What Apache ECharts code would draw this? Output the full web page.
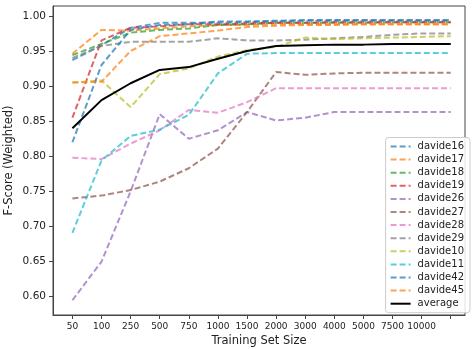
<!DOCTYPE html>
<html>
<head>
<meta charset="utf-8">
<script src="https://cdn.jsdelivr.net/npm/echarts@6/dist/echarts.min.js"></script>
<style>html,body{margin:0;padding:0;background:#fff}#c{width:474px;height:349px}</style>
</head>
<body>
<div id="c"></div>
<script>
var categories = ['50','100','250','500','750','1000','1500','2000','3000','4000','5000','7500','10000',''];
var yTicks = [0.60,0.65,0.70,0.75,0.80,0.85,0.90,0.95,1.00];

var davide16 = [0.937,0.958,0.983,0.990,0.990,0.990,0.991,0.992,0.993,0.993,0.993,0.993,0.993,0.993];
var davide17 = [0.946,0.980,0.979,0.982,0.985,0.987,0.987,0.988,0.988,0.988,0.988,0.988,0.988,0.988];
var davide18 = [0.944,0.960,0.976,0.980,0.982,0.987,0.988,0.990,0.990,0.990,0.990,0.991,0.991,0.991];
var davide19 = [0.855,0.965,0.983,0.985,0.988,0.988,0.989,0.990,0.990,0.991,0.991,0.991,0.991,0.991];
var davide26 = [0.595,0.650,0.750,0.860,0.825,0.837,0.863,0.851,0.855,0.863,0.863,0.863,0.863,0.863];
var davide27 = [0.740,0.744,0.752,0.764,0.783,0.811,0.863,0.920,0.916,0.918,0.919,0.919,0.919,0.919];
var davide28 = [0.798,0.796,0.818,0.837,0.866,0.862,0.877,0.897,0.897,0.897,0.897,0.897,0.897,0.897];
var davide29 = [0.940,0.957,0.963,0.963,0.963,0.968,0.965,0.965,0.966,0.968,0.970,0.973,0.975,0.975];
var davide10 = [0.905,0.908,0.870,0.917,0.925,0.942,0.951,0.956,0.969,0.967,0.968,0.969,0.970,0.971];
var davide11 = [0.691,0.794,0.829,0.838,0.859,0.918,0.946,0.947,0.947,0.947,0.947,0.947,0.947,0.947];
var davide42 = [0.820,0.930,0.980,0.987,0.988,0.992,0.992,0.993,0.994,0.994,0.994,0.994,0.994,0.994];
var davide45 = [0.905,0.906,0.950,0.971,0.975,0.979,0.984,0.986,0.987,0.987,0.988,0.988,0.988,0.988];
var average  = [0.840,0.880,0.904,0.923,0.927,0.939,0.950,0.957,0.958,0.959,0.959,0.960,0.960,0.960];

var seriesNames = ['davide16','davide17','davide18','davide19','davide26','davide27','davide28','davide29','davide10','davide11','davide42','davide45','average'];
var seriesValues = [davide16,davide17,davide18,davide19,davide26,davide27,davide28,davide29,davide10,davide11,davide42,davide45,average];
var colors = ['#1f77b4','#ff7f0e','#2ca02c','#d62728','#9467bd','#8c564b','#e377c2','#7f7f7f','#bcbd22','#17becf','#1f77b4','#ff7f0e','#000000'];

var tickIdx = categories.map(function(_, i){ return i; });
var labelIdx = tickIdx.slice(0, categories.length - 1);

var series = seriesNames.map(function(name, k){
  var isAvg = name === 'average';
  return {
    name: name,
    type: 'line',
    symbol: 'none',
    silent: true,
    animation: false,
    data: seriesValues[k].map(function(v, i){ return [i, v]; }),
    lineStyle: {
      color: colors[k],
      width: 2,
      type: isAvg ? 'solid' : [6, 3],
      opacity: isAvg ? 1 : 0.72
    },
    itemStyle: { color: colors[k], opacity: isAvg ? 1 : 0.72 }
  };
});

var chart = echarts.init(document.getElementById('c'), null, {renderer: 'canvas'});
chart.setOption({
  animation: false,
  backgroundColor: '#fff',
  textStyle: { fontFamily: 'DejaVu Sans' },
  grid: { left: 53, right: 9, top: 6, bottom: 34, containLabel: false, outerBoundsMode: 'none',
          show: true, borderColor: '#444', borderWidth: 1, backgroundColor: 'transparent' },
  xAxis: {
    type: 'value',
    min: -0.667, max: 13.49,
    name: 'Training Set Size',
    nameLocation: 'middle',
    nameGap: 20,
    nameMoveOverlap: false,
    nameTextStyle: { fontSize: 11.5, color: '#222' },
    axisLine: { show: true, onZero: false, lineStyle: { color: '#444', width: 1 } },
    axisTick: { show: true, length: 4, lineStyle: { color: '#444' }, customValues: tickIdx },
    axisLabel: { fontSize: 9, color: '#222', margin: 7, customValues: labelIdx, hideOverlap: false,
      formatter: function(v){ var i = Math.round(v); return categories[i] || ''; } },
    splitLine: { show: false }
  },
  yAxis: {
    type: 'value',
    min: 0.574, max: 1.014,
    name: 'F-Score (Weighted)',
    nameLocation: 'middle',
    nameGap: 38,
    nameMoveOverlap: false,
    nameRotate: 90,
    nameTextStyle: { fontSize: 11.5, color: '#222' },
    axisLine: { show: true, onZero: false, lineStyle: { color: '#444', width: 1 } },
    axisTick: { show: true, length: 4, lineStyle: { color: '#444' }, customValues: yTicks },
    axisLabel: { fontSize: 10.5, color: '#222', margin: 7, customValues: yTicks,
      formatter: function(v){ return v.toFixed(2); } },
    splitLine: { show: false }
  },
  legend: {
    orient: 'vertical',
    right: 4,
    top: 137.5,
    align: 'left',
    itemWidth: 20,
    itemHeight: 10,
    itemGap: 3.1,
    padding: [4, 6, 4, 4],
    borderColor: '#ccc',
    borderWidth: 1,
    borderRadius: 3,
    backgroundColor: 'rgba(255,255,255,0.85)',
    itemStyle: { opacity: 0 },
    textStyle: { fontSize: 10, color: '#222', padding: [0, 0, 0, 2] },
    data: seriesNames
  },
  series: series
});
</script>
</body>
</html>
